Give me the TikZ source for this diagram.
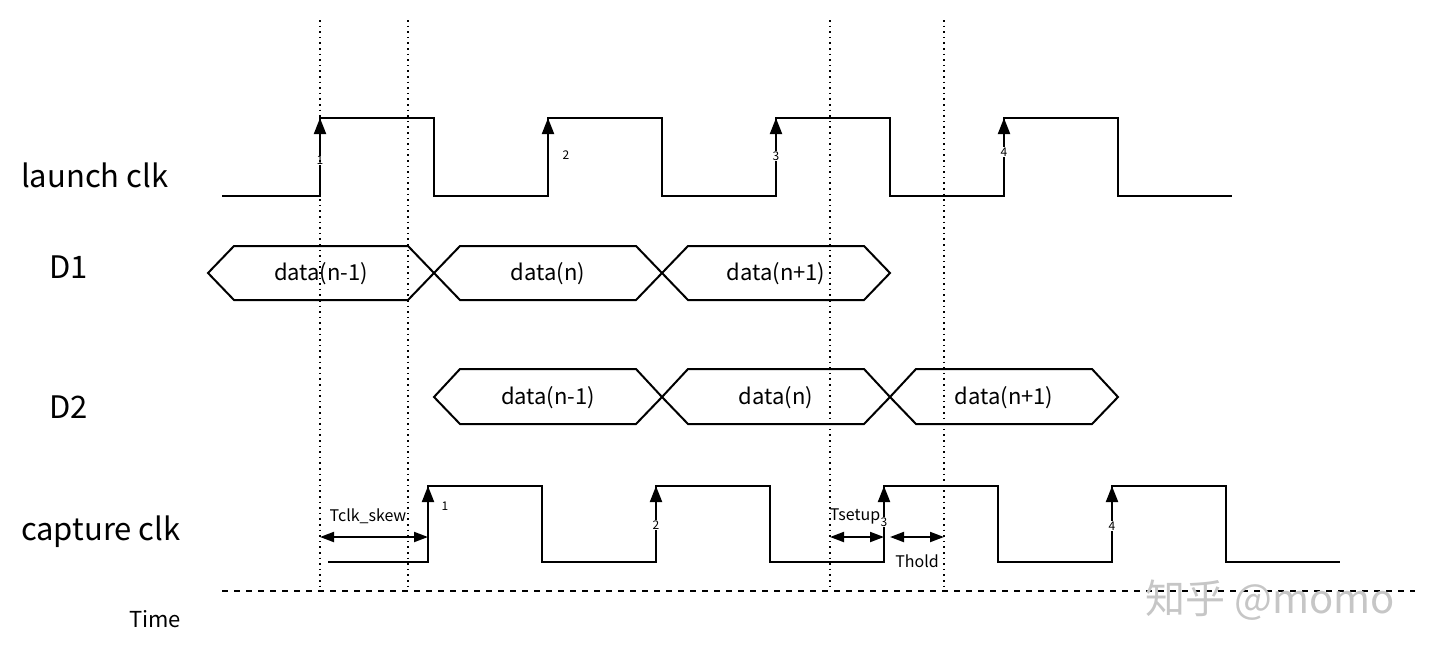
\documentclass[tikz,border=0pt]{standalone}
\usepackage{fontspec}
\setmainfont{Noto Sans CJK SC}
\usetikzlibrary{arrows.meta}
\begin{document}
\begin{tikzpicture}[
        x=0.5pt, y=-0.5pt,
        line join=miter,
        wave/.style={line width=1pt},
        edge/.style={line width=1pt, -{Triangle[width=6pt,length=8pt]}},
        marker/.style={dotted, line width=0.8pt},
        span/.style={line width=1pt, {Triangle[width=5pt,length=7pt]}-{Triangle[width=5pt,length=7pt]}},
        sig/.style={font=\fontsize{15.5}{15.5}\selectfont, anchor=west},
        dat/.style={font=\fontsize{11}{11}\selectfont},
        num/.style={font=\fontsize{6}{6}\selectfont}
        ]
        \useasboundingbox (0,0) rectangle (1440,655);

        % signal names
        \node[sig] (lclk) at (14,175) {launch clk};
        \node[sig] (d1) at (42,267) {D1};
        \node[sig] (d2) at (42,407) {D2};
        \node[sig] (cclk) at (14,532) {capture clk};
        \node[dat] (time) at (155,619) {Time};

        % launch clock
        \draw[wave] (222,196) -- (320,196) -- (320,118) -- (434,118) -- (434,196)
            -- (548,196) -- (548,118) -- (662,118) -- (662,196)
            -- (776,196) -- (776,118) -- (890,118) -- (890,196)
            -- (1004,196) -- (1004,118) -- (1118,118) -- (1118,196) -- (1232,196);
        \foreach \x/\n/\dx/\ly in {320/1/0/160, 548/2/18/155, 776/3/0/156, 1004/4/0/152} {
            \draw[edge] (\x,165) -- (\x,118);
            \node[num, fill=white, inner sep=0.5pt] (l\n) at (\x+\dx,\ly) {\n};
        }

        % data lanes
        \foreach \a/\b/\t/\i in {208/434/data(n-1)/a, 434/662/data(n)/b, 662/890/data(n+1)/c} {
            \draw[wave] (\a,273) -- (\a+26,246) -- (\b-26,246) -- (\b,273) -- (\b-26,300) -- (\a+26,300) -- cycle;
            \node[dat] (d1\i) at ({(\a+\b)/2},274) {\t};
        }
        \foreach \a/\b/\t/\i in {434/662/data(n-1)/a, 662/890/data(n)/b, 890/1118/data(n+1)/c} {
            \draw[wave] (\a,397) -- (\a+26,369) -- (\b-26,369) -- (\b,397) -- (\b-26,424) -- (\a+26,424) -- cycle;
            \node[dat] (d2\i) at ({(\a+\b)/2},398) {\t};
        }

        % capture clock
        \draw[wave] (328,562) -- (428,562) -- (428,486) -- (542,486) -- (542,562)
            -- (656,562) -- (656,486) -- (770,486) -- (770,562)
            -- (884,562) -- (884,486) -- (998,486) -- (998,562)
            -- (1112,562) -- (1112,486) -- (1226,486) -- (1226,562) -- (1340,562);
        \foreach \x/\n/\dx/\ly in {428/1/17/506, 656/2/0/525, 884/3/0/522, 1112/4/0/526} {
            \draw[edge] (\x,530) -- (\x,486);
            \node[num, fill=white, inner sep=0.5pt] (c\n) at (\x+\dx,\ly) {\n};
        }

        % markers
        \foreach \x in {320, 408, 830, 944}
            \draw[marker] (\x,20) -- (\x,590);
        \draw[dashed, line width=0.8pt] (222,591) -- (1415,591);

        % timing spans
        \coordinate (s1) at (320,537);
        \coordinate (s2) at (428,537);
        \coordinate (s3) at (830,537);
        \coordinate (s4) at (884,537);
        \coordinate (s5) at (890,537);
        \coordinate (s6) at (944,537);
        \draw[span] (s1) -- (s2);
        \draw[span] (s3) -- (s4);
        \draw[span] (s5) -- (s6);
        \node[dat, font=\fontsize{8}{8}\selectfont] (skew) at (368,516) {Tclk\_skew};
        \node[dat, font=\fontsize{8}{8}\selectfont] (setup) at (855,516) {Tsetup};
        \node[dat, font=\fontsize{8}{8}\selectfont] (hold) at (917,561) {Thold};

        % watermark
        \node[text=gray!45, font=\fontsize{20}{20}\selectfont] (mark) at (1270,600) {知乎 @momo};
    \end{tikzpicture}
\end{document}
